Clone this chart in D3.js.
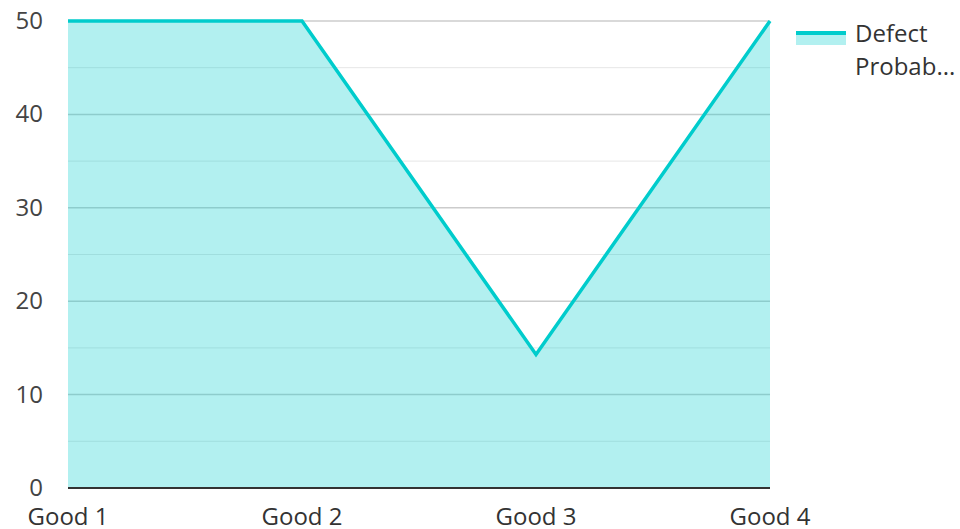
<!DOCTYPE html>
<html><head><meta charset="utf-8">
<script src="https://cdn.jsdelivr.net/npm/d3@7"></script>
<style>body{margin:0;background:#fff}svg{display:block}text{font-family:"Open Sans",sans-serif}</style>
</head><body><svg id="c" width="960" height="529"></svg>
<script>
const categories = ["Good 1","Good 2","Good 3","Good 4"];
const values = [50, 50, 14.3, 50];
const seriesName = "Defect Probab...";
const yTicks = [0,10,20,30,40,50];
const yMinor = [5,15,25,35,45];

const svg = d3.select("#c");
const x = d3.scalePoint().domain(categories).range([68,770]);
const y = d3.scaleLinear().domain([0,50]).range([488,21]);
const col = "#00cccc";

// gridlines
svg.append("g").selectAll("line").data(yMinor).join("line")
  .attr("x1",68).attr("x2",770).attr("y1",d=>y(d)).attr("y2",d=>y(d))
  .attr("stroke","#e6e6e6").attr("stroke-width",1);
svg.append("g").selectAll("line").data(yTicks.filter(d=>d>0)).join("line")
  .attr("x1",68).attr("x2",770).attr("y1",d=>y(d)).attr("y2",d=>y(d))
  .attr("stroke","#cccccc").attr("stroke-width",1.5);

const pts = categories.map((c,i)=>[x(c), values[i]]);
svg.append("path").datum(pts)
  .attr("d", d3.area().x(d=>d[0]).y0(y(0)).y1(d=>y(d[1])))
  .attr("fill", col).attr("fill-opacity",0.3);
svg.append("path").datum(pts)
  .attr("d", d3.line().x(d=>d[0]).y(d=>y(d[1])))
  .attr("fill","none").attr("stroke",col).attr("stroke-width",3.5);

// axis baseline
svg.append("line").attr("x1",68).attr("x2",770).attr("y1",y(0)).attr("y2",y(0))
  .attr("stroke","#333").attr("stroke-width",2);

// y labels
svg.append("g").selectAll("text").data(yTicks).join("text")
  .attr("x",43).attr("y",d=>y(d)+8).attr("text-anchor","end")
  .attr("font-size",24).attr("fill","#444").text(d=>d);
// x labels
svg.append("g").selectAll("text").data(categories).join("text")
  .attr("x",d=>x(d)).attr("y",525).attr("text-anchor","middle")
  .attr("font-size",24).attr("fill","#333").text(d=>d);

// legend
const lg = svg.append("g");
lg.append("rect").attr("x",796).attr("y",33).attr("width",50).attr("height",12).attr("fill",col).attr("fill-opacity",0.3);
lg.append("line").attr("x1",796).attr("x2",846).attr("y1",33).attr("y2",33).attr("stroke",col).attr("stroke-width",4);
const parts = ["Defect","Probab..."];
lg.selectAll("text").data(parts).join("text")
  .attr("x",855).attr("y",(d,i)=>42+i*33).attr("font-size",24).attr("fill","#333").text(d=>d);
</script></body></html>
